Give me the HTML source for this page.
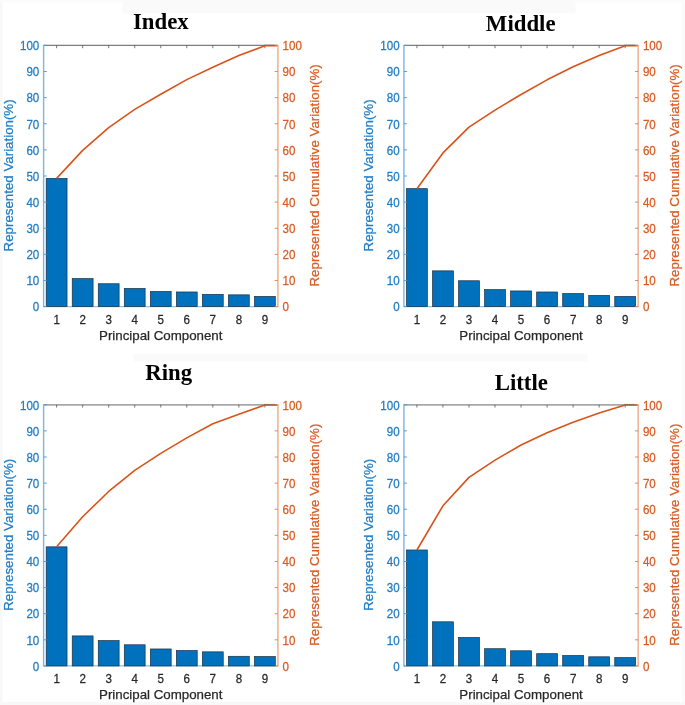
<!DOCTYPE html>
<html><head><meta charset="utf-8"><title>Pareto charts</title>
<style>
html,body{margin:0;padding:0;background:#fff;}
body{width:685px;height:705px;overflow:hidden;position:relative;}
svg{position:absolute;left:0;top:0;display:block;}
svg text{font-family:"Liberation Sans",Arial,sans-serif;stroke-width:0.25px;paint-order:stroke;}
svg text.b{stroke:#2b80c6;} svg text.o{stroke:#dc6430;} svg text.k{stroke:#333;}
svg text.t{font-family:"Liberation Serif","Times New Roman",serif;font-weight:bold;}
</style></head><body>
<svg width="685" height="705" viewBox="0 0 685 705">
<rect x="0" y="0" width="685" height="705" fill="#fff"/>
<rect x="0" y="0" width="2.5" height="705" fill="#f8f8f8"/>
<rect x="682.2" y="0" width="2.8" height="705" fill="#fbfbfb"/>
<rect x="0" y="0" width="685" height="2.3" fill="#fbfbfb"/>
<rect x="122.2" y="1.5" width="453.4" height="11.9" fill="#fafafa"/>
<rect x="133.7" y="354.1" width="453.6" height="7.3" fill="#fafafa"/>
<rect x="0" y="702" width="685" height="3" fill="#f8f8f8"/>
<line x1="43.60" y1="306.60" x2="277.90" y2="306.60" stroke="#8fc0e8" stroke-width="1.2"/>
<rect x="46.20" y="178.35" width="20.83" height="128.25" fill="#0072BD" stroke="#1b2f40" stroke-width="0.7"/>
<rect x="72.24" y="278.65" width="20.83" height="27.95" fill="#0072BD" stroke="#1b2f40" stroke-width="0.7"/>
<rect x="98.27" y="283.75" width="20.83" height="22.86" fill="#0072BD" stroke="#1b2f40" stroke-width="0.7"/>
<rect x="124.30" y="288.45" width="20.83" height="18.15" fill="#0072BD" stroke="#1b2f40" stroke-width="0.7"/>
<rect x="150.34" y="291.45" width="20.83" height="15.15" fill="#0072BD" stroke="#1b2f40" stroke-width="0.7"/>
<rect x="176.37" y="291.97" width="20.83" height="14.63" fill="#0072BD" stroke="#1b2f40" stroke-width="0.7"/>
<rect x="202.40" y="294.32" width="20.83" height="12.28" fill="#0072BD" stroke="#1b2f40" stroke-width="0.7"/>
<rect x="228.44" y="294.85" width="20.83" height="11.75" fill="#0072BD" stroke="#1b2f40" stroke-width="0.7"/>
<rect x="254.47" y="296.41" width="20.83" height="10.19" fill="#0072BD" stroke="#1b2f40" stroke-width="0.7"/>
<line x1="43.60" y1="45.40" x2="277.90" y2="45.40" stroke="#7d7d7d" stroke-width="1.3"/>
<line x1="56.62" y1="45.40" x2="56.62" y2="48.20" stroke="#555" stroke-width="0.8"/>
<line x1="82.65" y1="45.40" x2="82.65" y2="48.20" stroke="#555" stroke-width="0.8"/>
<line x1="108.68" y1="45.40" x2="108.68" y2="48.20" stroke="#555" stroke-width="0.8"/>
<line x1="134.72" y1="45.40" x2="134.72" y2="48.20" stroke="#555" stroke-width="0.8"/>
<line x1="160.75" y1="45.40" x2="160.75" y2="48.20" stroke="#555" stroke-width="0.8"/>
<line x1="186.78" y1="45.40" x2="186.78" y2="48.20" stroke="#555" stroke-width="0.8"/>
<line x1="212.82" y1="45.40" x2="212.82" y2="48.20" stroke="#555" stroke-width="0.8"/>
<line x1="238.85" y1="45.40" x2="238.85" y2="48.20" stroke="#555" stroke-width="0.8"/>
<line x1="264.88" y1="45.40" x2="264.88" y2="48.20" stroke="#555" stroke-width="0.8"/>
<polyline points="56.62,178.35 82.65,150.40 108.68,127.55 134.72,109.39 160.75,94.24 186.78,79.62 212.82,67.34 238.85,55.59 264.88,45.70 277.40,45.70" fill="none" stroke="#D95319" stroke-width="1.6" stroke-linejoin="round"/>
<line x1="263.88" y1="45.05" x2="274.90" y2="45.05" stroke="#6e6e6e" stroke-opacity="0.75" stroke-width="0.9"/>
<line x1="43.60" y1="44.90" x2="43.60" y2="307.10" stroke="#7fb3e0" stroke-width="1.4"/>
<line x1="43.60" y1="306.60" x2="46.80" y2="306.60" stroke="#4d94d2" stroke-width="0.9"/>
<line x1="43.60" y1="280.48" x2="46.80" y2="280.48" stroke="#4d94d2" stroke-width="0.9"/>
<line x1="43.60" y1="254.36" x2="46.80" y2="254.36" stroke="#4d94d2" stroke-width="0.9"/>
<line x1="43.60" y1="228.24" x2="46.80" y2="228.24" stroke="#4d94d2" stroke-width="0.9"/>
<line x1="43.60" y1="202.12" x2="46.80" y2="202.12" stroke="#4d94d2" stroke-width="0.9"/>
<line x1="43.60" y1="176.00" x2="46.80" y2="176.00" stroke="#4d94d2" stroke-width="0.9"/>
<line x1="43.60" y1="149.88" x2="46.80" y2="149.88" stroke="#4d94d2" stroke-width="0.9"/>
<line x1="43.60" y1="123.76" x2="46.80" y2="123.76" stroke="#4d94d2" stroke-width="0.9"/>
<line x1="43.60" y1="97.64" x2="46.80" y2="97.64" stroke="#4d94d2" stroke-width="0.9"/>
<line x1="43.60" y1="71.52" x2="46.80" y2="71.52" stroke="#4d94d2" stroke-width="0.9"/>
<line x1="43.60" y1="45.40" x2="46.80" y2="45.40" stroke="#4d94d2" stroke-width="0.9"/>
<line x1="277.90" y1="44.90" x2="277.90" y2="307.10" stroke="#f0b89c" stroke-width="1.7"/>
<line x1="274.70" y1="306.60" x2="277.90" y2="306.60" stroke="#e07a4a" stroke-width="0.9"/>
<line x1="274.70" y1="280.48" x2="277.90" y2="280.48" stroke="#e07a4a" stroke-width="0.9"/>
<line x1="274.70" y1="254.36" x2="277.90" y2="254.36" stroke="#e07a4a" stroke-width="0.9"/>
<line x1="274.70" y1="228.24" x2="277.90" y2="228.24" stroke="#e07a4a" stroke-width="0.9"/>
<line x1="274.70" y1="202.12" x2="277.90" y2="202.12" stroke="#e07a4a" stroke-width="0.9"/>
<line x1="274.70" y1="176.00" x2="277.90" y2="176.00" stroke="#e07a4a" stroke-width="0.9"/>
<line x1="274.70" y1="149.88" x2="277.90" y2="149.88" stroke="#e07a4a" stroke-width="0.9"/>
<line x1="274.70" y1="123.76" x2="277.90" y2="123.76" stroke="#e07a4a" stroke-width="0.9"/>
<line x1="274.70" y1="97.64" x2="277.90" y2="97.64" stroke="#e07a4a" stroke-width="0.9"/>
<line x1="274.70" y1="71.52" x2="277.90" y2="71.52" stroke="#e07a4a" stroke-width="0.9"/>
<line x1="274.70" y1="45.40" x2="277.90" y2="45.40" stroke="#e07a4a" stroke-width="0.9"/>
<text transform="translate(39.30,311.35) scale(1,1.12)" text-anchor="end" class="b" fill="#1f7cc4" font-size="11.6">0</text>
<text transform="translate(282.60,311.35) scale(1,1.12)" class="o" fill="#d95a22" font-size="11.6">0</text>
<text transform="translate(39.30,285.23) scale(1,1.12)" text-anchor="end" class="b" fill="#1f7cc4" font-size="11.6">10</text>
<text transform="translate(282.60,285.23) scale(1,1.12)" class="o" fill="#d95a22" font-size="11.6">10</text>
<text transform="translate(39.30,259.11) scale(1,1.12)" text-anchor="end" class="b" fill="#1f7cc4" font-size="11.6">20</text>
<text transform="translate(282.60,259.11) scale(1,1.12)" class="o" fill="#d95a22" font-size="11.6">20</text>
<text transform="translate(39.30,232.99) scale(1,1.12)" text-anchor="end" class="b" fill="#1f7cc4" font-size="11.6">30</text>
<text transform="translate(282.60,232.99) scale(1,1.12)" class="o" fill="#d95a22" font-size="11.6">30</text>
<text transform="translate(39.30,206.87) scale(1,1.12)" text-anchor="end" class="b" fill="#1f7cc4" font-size="11.6">40</text>
<text transform="translate(282.60,206.87) scale(1,1.12)" class="o" fill="#d95a22" font-size="11.6">40</text>
<text transform="translate(39.30,180.75) scale(1,1.12)" text-anchor="end" class="b" fill="#1f7cc4" font-size="11.6">50</text>
<text transform="translate(282.60,180.75) scale(1,1.12)" class="o" fill="#d95a22" font-size="11.6">50</text>
<text transform="translate(39.30,154.63) scale(1,1.12)" text-anchor="end" class="b" fill="#1f7cc4" font-size="11.6">60</text>
<text transform="translate(282.60,154.63) scale(1,1.12)" class="o" fill="#d95a22" font-size="11.6">60</text>
<text transform="translate(39.30,128.51) scale(1,1.12)" text-anchor="end" class="b" fill="#1f7cc4" font-size="11.6">70</text>
<text transform="translate(282.60,128.51) scale(1,1.12)" class="o" fill="#d95a22" font-size="11.6">70</text>
<text transform="translate(39.30,102.39) scale(1,1.12)" text-anchor="end" class="b" fill="#1f7cc4" font-size="11.6">80</text>
<text transform="translate(282.60,102.39) scale(1,1.12)" class="o" fill="#d95a22" font-size="11.6">80</text>
<text transform="translate(39.30,76.27) scale(1,1.12)" text-anchor="end" class="b" fill="#1f7cc4" font-size="11.6">90</text>
<text transform="translate(282.60,76.27) scale(1,1.12)" class="o" fill="#d95a22" font-size="11.6">90</text>
<text transform="translate(39.30,50.15) scale(1,1.12)" text-anchor="end" class="b" fill="#1f7cc4" font-size="11.6">100</text>
<text transform="translate(282.60,50.15) scale(1,1.12)" class="o" fill="#d95a22" font-size="11.6">100</text>
<text transform="translate(56.62,323.60) scale(1,1.12)" text-anchor="middle" class="k" fill="#262626" font-size="11.6">1</text>
<text transform="translate(82.65,323.60) scale(1,1.12)" text-anchor="middle" class="k" fill="#262626" font-size="11.6">2</text>
<text transform="translate(108.68,323.60) scale(1,1.12)" text-anchor="middle" class="k" fill="#262626" font-size="11.6">3</text>
<text transform="translate(134.72,323.60) scale(1,1.12)" text-anchor="middle" class="k" fill="#262626" font-size="11.6">4</text>
<text transform="translate(160.75,323.60) scale(1,1.12)" text-anchor="middle" class="k" fill="#262626" font-size="11.6">5</text>
<text transform="translate(186.78,323.60) scale(1,1.12)" text-anchor="middle" class="k" fill="#262626" font-size="11.6">6</text>
<text transform="translate(212.82,323.60) scale(1,1.12)" text-anchor="middle" class="k" fill="#262626" font-size="11.6">7</text>
<text transform="translate(238.85,323.60) scale(1,1.12)" text-anchor="middle" class="k" fill="#262626" font-size="11.6">8</text>
<text transform="translate(264.88,323.60) scale(1,1.12)" text-anchor="middle" class="k" fill="#262626" font-size="11.6">9</text>
<text x="160.75" y="339.90" text-anchor="middle" class="k" fill="#262626" font-size="13.3">Principal Component</text>
<text transform="translate(12.90,175.40) rotate(-90)" text-anchor="middle" class="b" fill="#1f7cc4" font-size="13.3">Represented Variation(%)</text>
<text transform="translate(318.80,175.40) rotate(-90)" text-anchor="middle" class="o" fill="#d95a22" font-size="13.3">Represented Cumulative Variation(%)</text>
<text x="160.85" y="28.90" text-anchor="middle" class="t" fill="#000" font-size="22.8">Index</text>
<line x1="403.90" y1="306.60" x2="638.20" y2="306.60" stroke="#8fc0e8" stroke-width="1.2"/>
<rect x="406.50" y="188.66" width="20.83" height="117.94" fill="#0072BD" stroke="#1b2f40" stroke-width="0.7"/>
<rect x="432.54" y="270.85" width="20.83" height="35.75" fill="#0072BD" stroke="#1b2f40" stroke-width="0.7"/>
<rect x="458.57" y="280.77" width="20.83" height="25.83" fill="#0072BD" stroke="#1b2f40" stroke-width="0.7"/>
<rect x="484.60" y="289.64" width="20.83" height="16.96" fill="#0072BD" stroke="#1b2f40" stroke-width="0.7"/>
<rect x="510.64" y="290.94" width="20.83" height="15.66" fill="#0072BD" stroke="#1b2f40" stroke-width="0.7"/>
<rect x="536.67" y="291.99" width="20.83" height="14.61" fill="#0072BD" stroke="#1b2f40" stroke-width="0.7"/>
<rect x="562.70" y="293.55" width="20.83" height="13.05" fill="#0072BD" stroke="#1b2f40" stroke-width="0.7"/>
<rect x="588.74" y="295.38" width="20.83" height="11.22" fill="#0072BD" stroke="#1b2f40" stroke-width="0.7"/>
<rect x="614.77" y="296.42" width="20.83" height="10.18" fill="#0072BD" stroke="#1b2f40" stroke-width="0.7"/>
<line x1="403.90" y1="45.40" x2="638.20" y2="45.40" stroke="#7d7d7d" stroke-width="1.3"/>
<line x1="416.92" y1="45.40" x2="416.92" y2="48.20" stroke="#555" stroke-width="0.8"/>
<line x1="442.95" y1="45.40" x2="442.95" y2="48.20" stroke="#555" stroke-width="0.8"/>
<line x1="468.98" y1="45.40" x2="468.98" y2="48.20" stroke="#555" stroke-width="0.8"/>
<line x1="495.02" y1="45.40" x2="495.02" y2="48.20" stroke="#555" stroke-width="0.8"/>
<line x1="521.05" y1="45.40" x2="521.05" y2="48.20" stroke="#555" stroke-width="0.8"/>
<line x1="547.08" y1="45.40" x2="547.08" y2="48.20" stroke="#555" stroke-width="0.8"/>
<line x1="573.12" y1="45.40" x2="573.12" y2="48.20" stroke="#555" stroke-width="0.8"/>
<line x1="599.15" y1="45.40" x2="599.15" y2="48.20" stroke="#555" stroke-width="0.8"/>
<line x1="625.18" y1="45.40" x2="625.18" y2="48.20" stroke="#555" stroke-width="0.8"/>
<polyline points="416.92,188.66 442.95,152.91 468.98,127.07 495.02,110.11 521.05,94.46 547.08,79.84 573.12,66.80 599.15,55.58 625.18,45.70 637.70,45.70" fill="none" stroke="#D95319" stroke-width="1.6" stroke-linejoin="round"/>
<line x1="624.18" y1="45.05" x2="635.20" y2="45.05" stroke="#6e6e6e" stroke-opacity="0.75" stroke-width="0.9"/>
<line x1="403.90" y1="44.90" x2="403.90" y2="307.10" stroke="#7fb3e0" stroke-width="1.4"/>
<line x1="403.90" y1="306.60" x2="407.10" y2="306.60" stroke="#4d94d2" stroke-width="0.9"/>
<line x1="403.90" y1="280.48" x2="407.10" y2="280.48" stroke="#4d94d2" stroke-width="0.9"/>
<line x1="403.90" y1="254.36" x2="407.10" y2="254.36" stroke="#4d94d2" stroke-width="0.9"/>
<line x1="403.90" y1="228.24" x2="407.10" y2="228.24" stroke="#4d94d2" stroke-width="0.9"/>
<line x1="403.90" y1="202.12" x2="407.10" y2="202.12" stroke="#4d94d2" stroke-width="0.9"/>
<line x1="403.90" y1="176.00" x2="407.10" y2="176.00" stroke="#4d94d2" stroke-width="0.9"/>
<line x1="403.90" y1="149.88" x2="407.10" y2="149.88" stroke="#4d94d2" stroke-width="0.9"/>
<line x1="403.90" y1="123.76" x2="407.10" y2="123.76" stroke="#4d94d2" stroke-width="0.9"/>
<line x1="403.90" y1="97.64" x2="407.10" y2="97.64" stroke="#4d94d2" stroke-width="0.9"/>
<line x1="403.90" y1="71.52" x2="407.10" y2="71.52" stroke="#4d94d2" stroke-width="0.9"/>
<line x1="403.90" y1="45.40" x2="407.10" y2="45.40" stroke="#4d94d2" stroke-width="0.9"/>
<line x1="638.20" y1="44.90" x2="638.20" y2="307.10" stroke="#f0b89c" stroke-width="1.7"/>
<line x1="635.00" y1="306.60" x2="638.20" y2="306.60" stroke="#e07a4a" stroke-width="0.9"/>
<line x1="635.00" y1="280.48" x2="638.20" y2="280.48" stroke="#e07a4a" stroke-width="0.9"/>
<line x1="635.00" y1="254.36" x2="638.20" y2="254.36" stroke="#e07a4a" stroke-width="0.9"/>
<line x1="635.00" y1="228.24" x2="638.20" y2="228.24" stroke="#e07a4a" stroke-width="0.9"/>
<line x1="635.00" y1="202.12" x2="638.20" y2="202.12" stroke="#e07a4a" stroke-width="0.9"/>
<line x1="635.00" y1="176.00" x2="638.20" y2="176.00" stroke="#e07a4a" stroke-width="0.9"/>
<line x1="635.00" y1="149.88" x2="638.20" y2="149.88" stroke="#e07a4a" stroke-width="0.9"/>
<line x1="635.00" y1="123.76" x2="638.20" y2="123.76" stroke="#e07a4a" stroke-width="0.9"/>
<line x1="635.00" y1="97.64" x2="638.20" y2="97.64" stroke="#e07a4a" stroke-width="0.9"/>
<line x1="635.00" y1="71.52" x2="638.20" y2="71.52" stroke="#e07a4a" stroke-width="0.9"/>
<line x1="635.00" y1="45.40" x2="638.20" y2="45.40" stroke="#e07a4a" stroke-width="0.9"/>
<text transform="translate(399.60,311.35) scale(1,1.12)" text-anchor="end" class="b" fill="#1f7cc4" font-size="11.6">0</text>
<text transform="translate(642.90,311.35) scale(1,1.12)" class="o" fill="#d95a22" font-size="11.6">0</text>
<text transform="translate(399.60,285.23) scale(1,1.12)" text-anchor="end" class="b" fill="#1f7cc4" font-size="11.6">10</text>
<text transform="translate(642.90,285.23) scale(1,1.12)" class="o" fill="#d95a22" font-size="11.6">10</text>
<text transform="translate(399.60,259.11) scale(1,1.12)" text-anchor="end" class="b" fill="#1f7cc4" font-size="11.6">20</text>
<text transform="translate(642.90,259.11) scale(1,1.12)" class="o" fill="#d95a22" font-size="11.6">20</text>
<text transform="translate(399.60,232.99) scale(1,1.12)" text-anchor="end" class="b" fill="#1f7cc4" font-size="11.6">30</text>
<text transform="translate(642.90,232.99) scale(1,1.12)" class="o" fill="#d95a22" font-size="11.6">30</text>
<text transform="translate(399.60,206.87) scale(1,1.12)" text-anchor="end" class="b" fill="#1f7cc4" font-size="11.6">40</text>
<text transform="translate(642.90,206.87) scale(1,1.12)" class="o" fill="#d95a22" font-size="11.6">40</text>
<text transform="translate(399.60,180.75) scale(1,1.12)" text-anchor="end" class="b" fill="#1f7cc4" font-size="11.6">50</text>
<text transform="translate(642.90,180.75) scale(1,1.12)" class="o" fill="#d95a22" font-size="11.6">50</text>
<text transform="translate(399.60,154.63) scale(1,1.12)" text-anchor="end" class="b" fill="#1f7cc4" font-size="11.6">60</text>
<text transform="translate(642.90,154.63) scale(1,1.12)" class="o" fill="#d95a22" font-size="11.6">60</text>
<text transform="translate(399.60,128.51) scale(1,1.12)" text-anchor="end" class="b" fill="#1f7cc4" font-size="11.6">70</text>
<text transform="translate(642.90,128.51) scale(1,1.12)" class="o" fill="#d95a22" font-size="11.6">70</text>
<text transform="translate(399.60,102.39) scale(1,1.12)" text-anchor="end" class="b" fill="#1f7cc4" font-size="11.6">80</text>
<text transform="translate(642.90,102.39) scale(1,1.12)" class="o" fill="#d95a22" font-size="11.6">80</text>
<text transform="translate(399.60,76.27) scale(1,1.12)" text-anchor="end" class="b" fill="#1f7cc4" font-size="11.6">90</text>
<text transform="translate(642.90,76.27) scale(1,1.12)" class="o" fill="#d95a22" font-size="11.6">90</text>
<text transform="translate(399.60,50.15) scale(1,1.12)" text-anchor="end" class="b" fill="#1f7cc4" font-size="11.6">100</text>
<text transform="translate(642.90,50.15) scale(1,1.12)" class="o" fill="#d95a22" font-size="11.6">100</text>
<text transform="translate(416.92,323.60) scale(1,1.12)" text-anchor="middle" class="k" fill="#262626" font-size="11.6">1</text>
<text transform="translate(442.95,323.60) scale(1,1.12)" text-anchor="middle" class="k" fill="#262626" font-size="11.6">2</text>
<text transform="translate(468.98,323.60) scale(1,1.12)" text-anchor="middle" class="k" fill="#262626" font-size="11.6">3</text>
<text transform="translate(495.02,323.60) scale(1,1.12)" text-anchor="middle" class="k" fill="#262626" font-size="11.6">4</text>
<text transform="translate(521.05,323.60) scale(1,1.12)" text-anchor="middle" class="k" fill="#262626" font-size="11.6">5</text>
<text transform="translate(547.08,323.60) scale(1,1.12)" text-anchor="middle" class="k" fill="#262626" font-size="11.6">6</text>
<text transform="translate(573.12,323.60) scale(1,1.12)" text-anchor="middle" class="k" fill="#262626" font-size="11.6">7</text>
<text transform="translate(599.15,323.60) scale(1,1.12)" text-anchor="middle" class="k" fill="#262626" font-size="11.6">8</text>
<text transform="translate(625.18,323.60) scale(1,1.12)" text-anchor="middle" class="k" fill="#262626" font-size="11.6">9</text>
<text x="521.05" y="339.90" text-anchor="middle" class="k" fill="#262626" font-size="13.3">Principal Component</text>
<text transform="translate(373.20,175.40) rotate(-90)" text-anchor="middle" class="b" fill="#1f7cc4" font-size="13.3">Represented Variation(%)</text>
<text transform="translate(679.10,175.40) rotate(-90)" text-anchor="middle" class="o" fill="#d95a22" font-size="13.3">Represented Cumulative Variation(%)</text>
<text x="520.70" y="30.70" text-anchor="middle" class="t" fill="#000" font-size="22.8">Middle</text>
<line x1="43.60" y1="665.95" x2="277.90" y2="665.95" stroke="#8fc0e8" stroke-width="1.2"/>
<rect x="46.20" y="546.84" width="20.83" height="119.11" fill="#0072BD" stroke="#1b2f40" stroke-width="0.7"/>
<rect x="72.24" y="635.91" width="20.83" height="30.04" fill="#0072BD" stroke="#1b2f40" stroke-width="0.7"/>
<rect x="98.27" y="640.61" width="20.83" height="25.34" fill="#0072BD" stroke="#1b2f40" stroke-width="0.7"/>
<rect x="124.30" y="644.79" width="20.83" height="21.16" fill="#0072BD" stroke="#1b2f40" stroke-width="0.7"/>
<rect x="150.34" y="648.97" width="20.83" height="16.98" fill="#0072BD" stroke="#1b2f40" stroke-width="0.7"/>
<rect x="176.37" y="650.54" width="20.83" height="15.41" fill="#0072BD" stroke="#1b2f40" stroke-width="0.7"/>
<rect x="202.40" y="651.85" width="20.83" height="14.10" fill="#0072BD" stroke="#1b2f40" stroke-width="0.7"/>
<rect x="228.44" y="656.29" width="20.83" height="9.66" fill="#0072BD" stroke="#1b2f40" stroke-width="0.7"/>
<rect x="254.47" y="656.55" width="20.83" height="9.40" fill="#0072BD" stroke="#1b2f40" stroke-width="0.7"/>
<line x1="43.60" y1="404.85" x2="277.90" y2="404.85" stroke="#a9a9a9" stroke-width="1.7"/>
<line x1="56.62" y1="404.75" x2="56.62" y2="407.55" stroke="#555" stroke-width="0.8"/>
<line x1="82.65" y1="404.75" x2="82.65" y2="407.55" stroke="#555" stroke-width="0.8"/>
<line x1="108.68" y1="404.75" x2="108.68" y2="407.55" stroke="#555" stroke-width="0.8"/>
<line x1="134.72" y1="404.75" x2="134.72" y2="407.55" stroke="#555" stroke-width="0.8"/>
<line x1="160.75" y1="404.75" x2="160.75" y2="407.55" stroke="#555" stroke-width="0.8"/>
<line x1="186.78" y1="404.75" x2="186.78" y2="407.55" stroke="#555" stroke-width="0.8"/>
<line x1="212.82" y1="404.75" x2="212.82" y2="407.55" stroke="#555" stroke-width="0.8"/>
<line x1="238.85" y1="404.75" x2="238.85" y2="407.55" stroke="#555" stroke-width="0.8"/>
<line x1="264.88" y1="404.75" x2="264.88" y2="407.55" stroke="#555" stroke-width="0.8"/>
<polyline points="56.62,546.84 82.65,516.80 108.68,491.47 134.72,470.31 160.75,453.33 186.78,437.92 212.82,423.82 238.85,414.15 264.88,405.05 277.40,405.05" fill="none" stroke="#D95319" stroke-width="1.6" stroke-linejoin="round"/>
<line x1="263.88" y1="404.40" x2="274.90" y2="404.40" stroke="#6e6e6e" stroke-opacity="0.75" stroke-width="0.9"/>
<line x1="43.60" y1="404.25" x2="43.60" y2="666.45" stroke="#7fb3e0" stroke-width="1.4"/>
<line x1="43.60" y1="665.95" x2="46.80" y2="665.95" stroke="#4d94d2" stroke-width="0.9"/>
<line x1="43.60" y1="639.83" x2="46.80" y2="639.83" stroke="#4d94d2" stroke-width="0.9"/>
<line x1="43.60" y1="613.71" x2="46.80" y2="613.71" stroke="#4d94d2" stroke-width="0.9"/>
<line x1="43.60" y1="587.59" x2="46.80" y2="587.59" stroke="#4d94d2" stroke-width="0.9"/>
<line x1="43.60" y1="561.47" x2="46.80" y2="561.47" stroke="#4d94d2" stroke-width="0.9"/>
<line x1="43.60" y1="535.35" x2="46.80" y2="535.35" stroke="#4d94d2" stroke-width="0.9"/>
<line x1="43.60" y1="509.23" x2="46.80" y2="509.23" stroke="#4d94d2" stroke-width="0.9"/>
<line x1="43.60" y1="483.11" x2="46.80" y2="483.11" stroke="#4d94d2" stroke-width="0.9"/>
<line x1="43.60" y1="456.99" x2="46.80" y2="456.99" stroke="#4d94d2" stroke-width="0.9"/>
<line x1="43.60" y1="430.87" x2="46.80" y2="430.87" stroke="#4d94d2" stroke-width="0.9"/>
<line x1="43.60" y1="404.75" x2="46.80" y2="404.75" stroke="#4d94d2" stroke-width="0.9"/>
<line x1="277.90" y1="404.25" x2="277.90" y2="666.45" stroke="#f0b89c" stroke-width="1.7"/>
<line x1="274.70" y1="665.95" x2="277.90" y2="665.95" stroke="#e07a4a" stroke-width="0.9"/>
<line x1="274.70" y1="639.83" x2="277.90" y2="639.83" stroke="#e07a4a" stroke-width="0.9"/>
<line x1="274.70" y1="613.71" x2="277.90" y2="613.71" stroke="#e07a4a" stroke-width="0.9"/>
<line x1="274.70" y1="587.59" x2="277.90" y2="587.59" stroke="#e07a4a" stroke-width="0.9"/>
<line x1="274.70" y1="561.47" x2="277.90" y2="561.47" stroke="#e07a4a" stroke-width="0.9"/>
<line x1="274.70" y1="535.35" x2="277.90" y2="535.35" stroke="#e07a4a" stroke-width="0.9"/>
<line x1="274.70" y1="509.23" x2="277.90" y2="509.23" stroke="#e07a4a" stroke-width="0.9"/>
<line x1="274.70" y1="483.11" x2="277.90" y2="483.11" stroke="#e07a4a" stroke-width="0.9"/>
<line x1="274.70" y1="456.99" x2="277.90" y2="456.99" stroke="#e07a4a" stroke-width="0.9"/>
<line x1="274.70" y1="430.87" x2="277.90" y2="430.87" stroke="#e07a4a" stroke-width="0.9"/>
<line x1="274.70" y1="404.75" x2="277.90" y2="404.75" stroke="#e07a4a" stroke-width="0.9"/>
<text transform="translate(39.30,670.70) scale(1,1.12)" text-anchor="end" class="b" fill="#1f7cc4" font-size="11.6">0</text>
<text transform="translate(282.60,670.70) scale(1,1.12)" class="o" fill="#d95a22" font-size="11.6">0</text>
<text transform="translate(39.30,644.58) scale(1,1.12)" text-anchor="end" class="b" fill="#1f7cc4" font-size="11.6">10</text>
<text transform="translate(282.60,644.58) scale(1,1.12)" class="o" fill="#d95a22" font-size="11.6">10</text>
<text transform="translate(39.30,618.46) scale(1,1.12)" text-anchor="end" class="b" fill="#1f7cc4" font-size="11.6">20</text>
<text transform="translate(282.60,618.46) scale(1,1.12)" class="o" fill="#d95a22" font-size="11.6">20</text>
<text transform="translate(39.30,592.34) scale(1,1.12)" text-anchor="end" class="b" fill="#1f7cc4" font-size="11.6">30</text>
<text transform="translate(282.60,592.34) scale(1,1.12)" class="o" fill="#d95a22" font-size="11.6">30</text>
<text transform="translate(39.30,566.22) scale(1,1.12)" text-anchor="end" class="b" fill="#1f7cc4" font-size="11.6">40</text>
<text transform="translate(282.60,566.22) scale(1,1.12)" class="o" fill="#d95a22" font-size="11.6">40</text>
<text transform="translate(39.30,540.10) scale(1,1.12)" text-anchor="end" class="b" fill="#1f7cc4" font-size="11.6">50</text>
<text transform="translate(282.60,540.10) scale(1,1.12)" class="o" fill="#d95a22" font-size="11.6">50</text>
<text transform="translate(39.30,513.98) scale(1,1.12)" text-anchor="end" class="b" fill="#1f7cc4" font-size="11.6">60</text>
<text transform="translate(282.60,513.98) scale(1,1.12)" class="o" fill="#d95a22" font-size="11.6">60</text>
<text transform="translate(39.30,487.86) scale(1,1.12)" text-anchor="end" class="b" fill="#1f7cc4" font-size="11.6">70</text>
<text transform="translate(282.60,487.86) scale(1,1.12)" class="o" fill="#d95a22" font-size="11.6">70</text>
<text transform="translate(39.30,461.74) scale(1,1.12)" text-anchor="end" class="b" fill="#1f7cc4" font-size="11.6">80</text>
<text transform="translate(282.60,461.74) scale(1,1.12)" class="o" fill="#d95a22" font-size="11.6">80</text>
<text transform="translate(39.30,435.62) scale(1,1.12)" text-anchor="end" class="b" fill="#1f7cc4" font-size="11.6">90</text>
<text transform="translate(282.60,435.62) scale(1,1.12)" class="o" fill="#d95a22" font-size="11.6">90</text>
<text transform="translate(39.30,409.50) scale(1,1.12)" text-anchor="end" class="b" fill="#1f7cc4" font-size="11.6">100</text>
<text transform="translate(282.60,409.50) scale(1,1.12)" class="o" fill="#d95a22" font-size="11.6">100</text>
<text transform="translate(56.62,682.95) scale(1,1.12)" text-anchor="middle" class="k" fill="#262626" font-size="11.6">1</text>
<text transform="translate(82.65,682.95) scale(1,1.12)" text-anchor="middle" class="k" fill="#262626" font-size="11.6">2</text>
<text transform="translate(108.68,682.95) scale(1,1.12)" text-anchor="middle" class="k" fill="#262626" font-size="11.6">3</text>
<text transform="translate(134.72,682.95) scale(1,1.12)" text-anchor="middle" class="k" fill="#262626" font-size="11.6">4</text>
<text transform="translate(160.75,682.95) scale(1,1.12)" text-anchor="middle" class="k" fill="#262626" font-size="11.6">5</text>
<text transform="translate(186.78,682.95) scale(1,1.12)" text-anchor="middle" class="k" fill="#262626" font-size="11.6">6</text>
<text transform="translate(212.82,682.95) scale(1,1.12)" text-anchor="middle" class="k" fill="#262626" font-size="11.6">7</text>
<text transform="translate(238.85,682.95) scale(1,1.12)" text-anchor="middle" class="k" fill="#262626" font-size="11.6">8</text>
<text transform="translate(264.88,682.95) scale(1,1.12)" text-anchor="middle" class="k" fill="#262626" font-size="11.6">9</text>
<text x="160.75" y="699.25" text-anchor="middle" class="k" fill="#262626" font-size="13.3">Principal Component</text>
<text transform="translate(12.90,534.75) rotate(-90)" text-anchor="middle" class="b" fill="#1f7cc4" font-size="13.3">Represented Variation(%)</text>
<text transform="translate(318.80,534.75) rotate(-90)" text-anchor="middle" class="o" fill="#d95a22" font-size="13.3">Represented Cumulative Variation(%)</text>
<text x="168.70" y="379.90" text-anchor="middle" class="t" fill="#000" font-size="22.8">Ring</text>
<line x1="403.90" y1="665.95" x2="638.20" y2="665.95" stroke="#8fc0e8" stroke-width="1.2"/>
<rect x="406.50" y="549.98" width="20.83" height="115.97" fill="#0072BD" stroke="#1b2f40" stroke-width="0.7"/>
<rect x="432.54" y="621.81" width="20.83" height="44.14" fill="#0072BD" stroke="#1b2f40" stroke-width="0.7"/>
<rect x="458.57" y="637.48" width="20.83" height="28.47" fill="#0072BD" stroke="#1b2f40" stroke-width="0.7"/>
<rect x="484.60" y="648.71" width="20.83" height="17.24" fill="#0072BD" stroke="#1b2f40" stroke-width="0.7"/>
<rect x="510.64" y="650.80" width="20.83" height="15.15" fill="#0072BD" stroke="#1b2f40" stroke-width="0.7"/>
<rect x="536.67" y="653.67" width="20.83" height="12.28" fill="#0072BD" stroke="#1b2f40" stroke-width="0.7"/>
<rect x="562.70" y="655.50" width="20.83" height="10.45" fill="#0072BD" stroke="#1b2f40" stroke-width="0.7"/>
<rect x="588.74" y="656.81" width="20.83" height="9.14" fill="#0072BD" stroke="#1b2f40" stroke-width="0.7"/>
<rect x="614.77" y="657.59" width="20.83" height="8.36" fill="#0072BD" stroke="#1b2f40" stroke-width="0.7"/>
<line x1="403.90" y1="404.85" x2="638.20" y2="404.85" stroke="#a9a9a9" stroke-width="1.7"/>
<line x1="416.92" y1="404.75" x2="416.92" y2="407.55" stroke="#555" stroke-width="0.8"/>
<line x1="442.95" y1="404.75" x2="442.95" y2="407.55" stroke="#555" stroke-width="0.8"/>
<line x1="468.98" y1="404.75" x2="468.98" y2="407.55" stroke="#555" stroke-width="0.8"/>
<line x1="495.02" y1="404.75" x2="495.02" y2="407.55" stroke="#555" stroke-width="0.8"/>
<line x1="521.05" y1="404.75" x2="521.05" y2="407.55" stroke="#555" stroke-width="0.8"/>
<line x1="547.08" y1="404.75" x2="547.08" y2="407.55" stroke="#555" stroke-width="0.8"/>
<line x1="573.12" y1="404.75" x2="573.12" y2="407.55" stroke="#555" stroke-width="0.8"/>
<line x1="599.15" y1="404.75" x2="599.15" y2="407.55" stroke="#555" stroke-width="0.8"/>
<line x1="625.18" y1="404.75" x2="625.18" y2="407.55" stroke="#555" stroke-width="0.8"/>
<polyline points="416.92,549.98 442.95,505.83 468.98,477.36 495.02,460.12 521.05,444.97 547.08,432.70 573.12,422.25 599.15,413.11 625.18,405.05 637.70,405.05" fill="none" stroke="#D95319" stroke-width="1.6" stroke-linejoin="round"/>
<line x1="624.18" y1="404.40" x2="635.20" y2="404.40" stroke="#6e6e6e" stroke-opacity="0.75" stroke-width="0.9"/>
<line x1="403.90" y1="404.25" x2="403.90" y2="666.45" stroke="#7fb3e0" stroke-width="1.4"/>
<line x1="403.90" y1="665.95" x2="407.10" y2="665.95" stroke="#4d94d2" stroke-width="0.9"/>
<line x1="403.90" y1="639.83" x2="407.10" y2="639.83" stroke="#4d94d2" stroke-width="0.9"/>
<line x1="403.90" y1="613.71" x2="407.10" y2="613.71" stroke="#4d94d2" stroke-width="0.9"/>
<line x1="403.90" y1="587.59" x2="407.10" y2="587.59" stroke="#4d94d2" stroke-width="0.9"/>
<line x1="403.90" y1="561.47" x2="407.10" y2="561.47" stroke="#4d94d2" stroke-width="0.9"/>
<line x1="403.90" y1="535.35" x2="407.10" y2="535.35" stroke="#4d94d2" stroke-width="0.9"/>
<line x1="403.90" y1="509.23" x2="407.10" y2="509.23" stroke="#4d94d2" stroke-width="0.9"/>
<line x1="403.90" y1="483.11" x2="407.10" y2="483.11" stroke="#4d94d2" stroke-width="0.9"/>
<line x1="403.90" y1="456.99" x2="407.10" y2="456.99" stroke="#4d94d2" stroke-width="0.9"/>
<line x1="403.90" y1="430.87" x2="407.10" y2="430.87" stroke="#4d94d2" stroke-width="0.9"/>
<line x1="403.90" y1="404.75" x2="407.10" y2="404.75" stroke="#4d94d2" stroke-width="0.9"/>
<line x1="638.20" y1="404.25" x2="638.20" y2="666.45" stroke="#f0b89c" stroke-width="1.7"/>
<line x1="635.00" y1="665.95" x2="638.20" y2="665.95" stroke="#e07a4a" stroke-width="0.9"/>
<line x1="635.00" y1="639.83" x2="638.20" y2="639.83" stroke="#e07a4a" stroke-width="0.9"/>
<line x1="635.00" y1="613.71" x2="638.20" y2="613.71" stroke="#e07a4a" stroke-width="0.9"/>
<line x1="635.00" y1="587.59" x2="638.20" y2="587.59" stroke="#e07a4a" stroke-width="0.9"/>
<line x1="635.00" y1="561.47" x2="638.20" y2="561.47" stroke="#e07a4a" stroke-width="0.9"/>
<line x1="635.00" y1="535.35" x2="638.20" y2="535.35" stroke="#e07a4a" stroke-width="0.9"/>
<line x1="635.00" y1="509.23" x2="638.20" y2="509.23" stroke="#e07a4a" stroke-width="0.9"/>
<line x1="635.00" y1="483.11" x2="638.20" y2="483.11" stroke="#e07a4a" stroke-width="0.9"/>
<line x1="635.00" y1="456.99" x2="638.20" y2="456.99" stroke="#e07a4a" stroke-width="0.9"/>
<line x1="635.00" y1="430.87" x2="638.20" y2="430.87" stroke="#e07a4a" stroke-width="0.9"/>
<line x1="635.00" y1="404.75" x2="638.20" y2="404.75" stroke="#e07a4a" stroke-width="0.9"/>
<text transform="translate(399.60,670.70) scale(1,1.12)" text-anchor="end" class="b" fill="#1f7cc4" font-size="11.6">0</text>
<text transform="translate(642.90,670.70) scale(1,1.12)" class="o" fill="#d95a22" font-size="11.6">0</text>
<text transform="translate(399.60,644.58) scale(1,1.12)" text-anchor="end" class="b" fill="#1f7cc4" font-size="11.6">10</text>
<text transform="translate(642.90,644.58) scale(1,1.12)" class="o" fill="#d95a22" font-size="11.6">10</text>
<text transform="translate(399.60,618.46) scale(1,1.12)" text-anchor="end" class="b" fill="#1f7cc4" font-size="11.6">20</text>
<text transform="translate(642.90,618.46) scale(1,1.12)" class="o" fill="#d95a22" font-size="11.6">20</text>
<text transform="translate(399.60,592.34) scale(1,1.12)" text-anchor="end" class="b" fill="#1f7cc4" font-size="11.6">30</text>
<text transform="translate(642.90,592.34) scale(1,1.12)" class="o" fill="#d95a22" font-size="11.6">30</text>
<text transform="translate(399.60,566.22) scale(1,1.12)" text-anchor="end" class="b" fill="#1f7cc4" font-size="11.6">40</text>
<text transform="translate(642.90,566.22) scale(1,1.12)" class="o" fill="#d95a22" font-size="11.6">40</text>
<text transform="translate(399.60,540.10) scale(1,1.12)" text-anchor="end" class="b" fill="#1f7cc4" font-size="11.6">50</text>
<text transform="translate(642.90,540.10) scale(1,1.12)" class="o" fill="#d95a22" font-size="11.6">50</text>
<text transform="translate(399.60,513.98) scale(1,1.12)" text-anchor="end" class="b" fill="#1f7cc4" font-size="11.6">60</text>
<text transform="translate(642.90,513.98) scale(1,1.12)" class="o" fill="#d95a22" font-size="11.6">60</text>
<text transform="translate(399.60,487.86) scale(1,1.12)" text-anchor="end" class="b" fill="#1f7cc4" font-size="11.6">70</text>
<text transform="translate(642.90,487.86) scale(1,1.12)" class="o" fill="#d95a22" font-size="11.6">70</text>
<text transform="translate(399.60,461.74) scale(1,1.12)" text-anchor="end" class="b" fill="#1f7cc4" font-size="11.6">80</text>
<text transform="translate(642.90,461.74) scale(1,1.12)" class="o" fill="#d95a22" font-size="11.6">80</text>
<text transform="translate(399.60,435.62) scale(1,1.12)" text-anchor="end" class="b" fill="#1f7cc4" font-size="11.6">90</text>
<text transform="translate(642.90,435.62) scale(1,1.12)" class="o" fill="#d95a22" font-size="11.6">90</text>
<text transform="translate(399.60,409.50) scale(1,1.12)" text-anchor="end" class="b" fill="#1f7cc4" font-size="11.6">100</text>
<text transform="translate(642.90,409.50) scale(1,1.12)" class="o" fill="#d95a22" font-size="11.6">100</text>
<text transform="translate(416.92,682.95) scale(1,1.12)" text-anchor="middle" class="k" fill="#262626" font-size="11.6">1</text>
<text transform="translate(442.95,682.95) scale(1,1.12)" text-anchor="middle" class="k" fill="#262626" font-size="11.6">2</text>
<text transform="translate(468.98,682.95) scale(1,1.12)" text-anchor="middle" class="k" fill="#262626" font-size="11.6">3</text>
<text transform="translate(495.02,682.95) scale(1,1.12)" text-anchor="middle" class="k" fill="#262626" font-size="11.6">4</text>
<text transform="translate(521.05,682.95) scale(1,1.12)" text-anchor="middle" class="k" fill="#262626" font-size="11.6">5</text>
<text transform="translate(547.08,682.95) scale(1,1.12)" text-anchor="middle" class="k" fill="#262626" font-size="11.6">6</text>
<text transform="translate(573.12,682.95) scale(1,1.12)" text-anchor="middle" class="k" fill="#262626" font-size="11.6">7</text>
<text transform="translate(599.15,682.95) scale(1,1.12)" text-anchor="middle" class="k" fill="#262626" font-size="11.6">8</text>
<text transform="translate(625.18,682.95) scale(1,1.12)" text-anchor="middle" class="k" fill="#262626" font-size="11.6">9</text>
<text x="521.05" y="699.25" text-anchor="middle" class="k" fill="#262626" font-size="13.3">Principal Component</text>
<text transform="translate(373.20,534.75) rotate(-90)" text-anchor="middle" class="b" fill="#1f7cc4" font-size="13.3">Represented Variation(%)</text>
<text transform="translate(679.10,534.75) rotate(-90)" text-anchor="middle" class="o" fill="#d95a22" font-size="13.3">Represented Cumulative Variation(%)</text>
<text x="521.30" y="389.80" text-anchor="middle" class="t" fill="#000" font-size="22.8">Little</text>
</svg>
</body></html>
